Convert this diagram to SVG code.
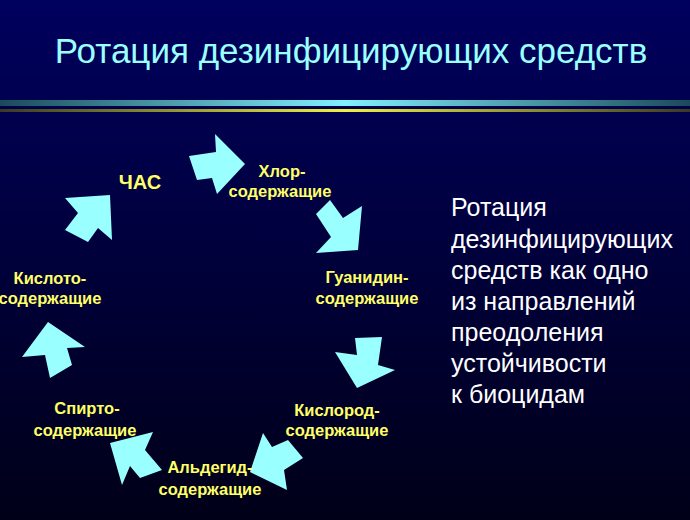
<svg xmlns="http://www.w3.org/2000/svg" width="690" height="520" viewBox="0 0 690 520">
<defs>
<linearGradient id="bg" x1="0" y1="0" x2="0" y2="1"><stop offset="0" stop-color="#00005e"/><stop offset="1" stop-color="#000018"/></linearGradient>
<linearGradient id="cy" x1="0" y1="0" x2="1" y2="0"><stop offset="0" stop-color="#1a4a5a"/><stop offset="0.5" stop-color="#80f0ff"/><stop offset="1" stop-color="#1a4a5a"/></linearGradient>
<linearGradient id="ye" x1="0" y1="0" x2="1" y2="0"><stop offset="0" stop-color="#3a3a20"/><stop offset="0.5" stop-color="#f0f040"/><stop offset="1" stop-color="#3a3a20"/></linearGradient>
<style>
.l{font-family:"Liberation Sans",Arial,sans-serif;font-weight:bold;font-size:16.5px;fill:#ffff66;text-anchor:middle}
.a{fill:#99ffff}
.r{font-family:"Liberation Sans",Arial,sans-serif;font-size:25px;fill:#ffffff}
</style>
</defs>
<rect width="690" height="520" fill="url(#bg)"/>
<text x="351" y="63" font-family="Liberation Sans,Arial,sans-serif" font-size="35" fill="#99ffff" text-anchor="middle">Ротация дезинфицирующих средств</text>
<rect x="0" y="100" width="690" height="6" fill="url(#cy)"/>
<rect x="0" y="109" width="690" height="3" fill="url(#ye)"/>
<g id="connectors">
<polygon class="a" points="189,156 216,152 215,134 245,164 217,194 212,178 197,180"/>
<polygon class="a" points="316,214 330,200 343,218 362,206 358,250 316,253 331,237"/>
<polygon class="a" points="355,338 382,337 378,365 395,370 357,388 335,352 357,355"/>
<polygon class="a" points="250,472 263,433 272,447 288,440 303,458 284,470 287,490"/>
<polygon class="a" points="110,443 153,432 145,450 162,470 140,478 130,466 122,485"/>
<polygon class="a" points="48,322 85,347 67,348 72,365 50,378 45,355 22,357"/>
<polygon class="a" points="65,198 110,195 112,240 98,228 88,242 65,230 78,213"/>
</g>
<g id="n-chas"><text class="l" x="140" y="189" style="font-size:20px">ЧАС</text></g>
<g id="n-chlor"><text class="l" x="282" y="177">Хлор-</text><text class="l" x="280" y="197">содержащие</text></g>
<g id="n-guan"><text class="l" x="367" y="283">Гуанидин-</text><text class="l" x="367" y="304">содержащие</text></g>
<g id="n-kisl"><text class="l" x="337" y="416">Кислород-</text><text class="l" x="337" y="436">содержащие</text></g>
<g id="n-ald"><text class="l" x="210" y="473">Альдегид-</text><text class="l" x="210" y="495">содержащие</text></g>
<g id="n-spirt"><text class="l" x="87" y="414">Спирто-</text><text class="l" x="85" y="436">содержащие</text></g>
<g id="n-kislo"><text class="l" x="50" y="284">Кислото-</text><text class="l" x="50" y="304">содержащие</text></g>
<g id="side"><text class="r" x="451" y="216">Ротация</text><text class="r" x="451" y="248">дезинфицирующих</text><text class="r" x="451" y="279">средств как одно</text><text class="r" x="451" y="310">из направлений</text><text class="r" x="451" y="341">преодоления</text><text class="r" x="451" y="372">устойчивости</text><text class="r" x="451" y="403">к биоцидам</text></g>
</svg>
